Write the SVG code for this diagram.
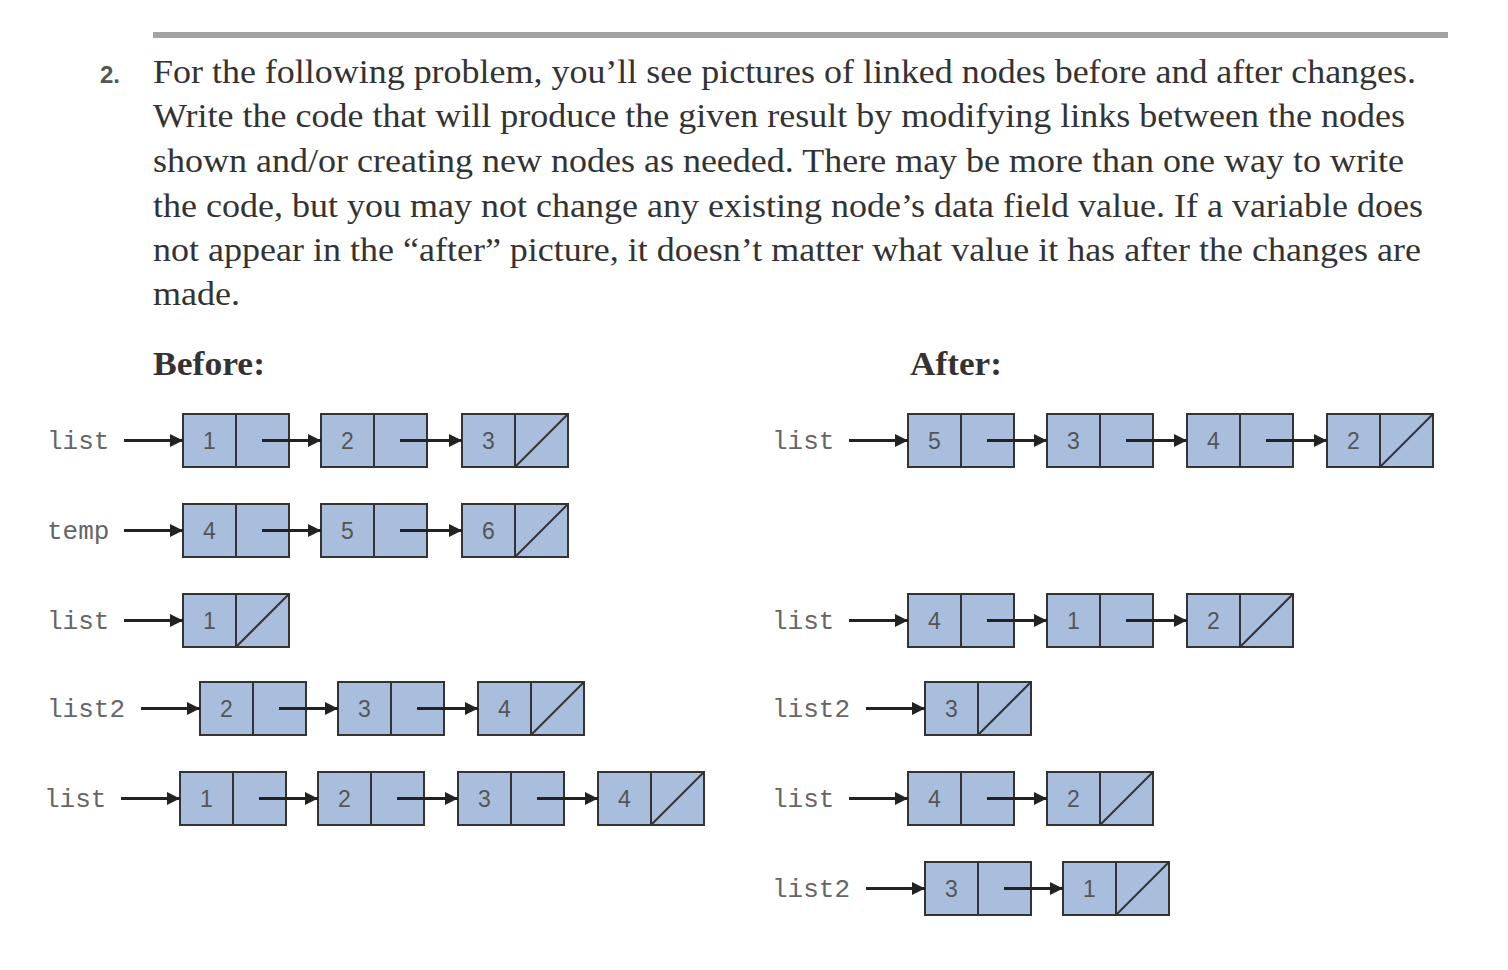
<svg xmlns="http://www.w3.org/2000/svg" width="1508" height="970" viewBox="0 0 1508 970">
<style>
.para{font-family:"Liberation Serif","Times New Roman",serif;font-size:33px;fill:#333}
.head{font-family:"Liberation Serif","Times New Roman",serif;font-size:33px;font-weight:bold;fill:#333}
.num2{font-family:"Liberation Sans",Arial,sans-serif;font-size:24px;font-weight:bold;fill:#555}
.lbl{font-family:"Liberation Mono","Courier New",monospace;font-size:26px;fill:#666}
.box{fill:#a9bedd;stroke:#333;stroke-width:2}
.div{stroke:#333;stroke-width:2}
.val{font-family:"Liberation Sans",Arial,sans-serif;font-size:23px;fill:#555;text-anchor:middle}
.conn line{stroke:#222;stroke-width:3;marker-end:url(#ah)}
</style>
<defs>
<marker id="ah" viewBox="0 0 10 10" refX="10" refY="5" markerWidth="13" markerHeight="14" markerUnits="userSpaceOnUse" orient="auto">
<path d="M0,0 L10,5 L0,10 z" fill="#222"/>
</marker>
<g id="n"><rect class="box" x="0" y="0" width="106" height="53"/><line class="div" x1="53" y1="0" x2="53" y2="53"/></g>
<g id="nn"><rect class="box" x="0" y="0" width="106" height="53"/><line class="div" x1="53" y1="0" x2="53" y2="53"/><line class="div" x1="53" y1="53" x2="106" y2="0"/></g>
</defs>
<rect width="1508" height="970" fill="#fff"/>
<rect x="153" y="32" width="1295" height="6" fill="#a3a3a3"/>
<g id="text">
<text class="num2" x="100" y="83">2.</text>
<text class="para" x="153" y="83" textLength="1263" lengthAdjust="spacingAndGlyphs">For the following problem, you’ll see pictures of linked nodes before and after changes.</text>
<text class="para" x="153" y="127" textLength="1252" lengthAdjust="spacingAndGlyphs">Write the code that will produce the given result by modifying links between the nodes</text>
<text class="para" x="153" y="172" textLength="1251" lengthAdjust="spacingAndGlyphs">shown and/or creating new nodes as needed. There may be more than one way to write</text>
<text class="para" x="153" y="217" textLength="1270" lengthAdjust="spacingAndGlyphs">the code, but you may not change any existing node’s data field value. If a variable does</text>
<text class="para" x="153" y="261" textLength="1268" lengthAdjust="spacingAndGlyphs">not appear in the “after” picture, it doesn’t matter what value it has after the changes are</text>
<text class="para" x="153" y="305" textLength="87" lengthAdjust="spacingAndGlyphs">made.</text>
<text class="head" x="153" y="375" textLength="112" lengthAdjust="spacingAndGlyphs">Before:</text>
<text class="head" x="910" y="375" textLength="92" lengthAdjust="spacingAndGlyphs">After:</text>
</g>
<g id="labels">
<text class="lbl" x="47" y="449">list</text>
<text class="lbl" x="47" y="539">temp</text>
<text class="lbl" x="47" y="629">list</text>
<text class="lbl" x="47" y="717">list2</text>
<text class="lbl" x="44" y="807">list</text>
<text class="lbl" x="772" y="449">list</text>
<text class="lbl" x="772" y="629">list</text>
<text class="lbl" x="772" y="717">list2</text>
<text class="lbl" x="772" y="807">list</text>
<text class="lbl" x="772" y="897">list2</text>
</g>
<g id="nodes">
<g id="b1n1"><use href="#n" x="183" y="414"/><text class="val" x="209.5" y="449">1</text></g>
<g id="b1n2"><use href="#n" x="321" y="414"/><text class="val" x="347.5" y="449">2</text></g>
<g id="b1n3"><use href="#nn" x="462" y="414"/><text class="val" x="488.5" y="449">3</text></g>
<g id="b2n1"><use href="#n" x="183" y="504"/><text class="val" x="209.5" y="539">4</text></g>
<g id="b2n2"><use href="#n" x="321" y="504"/><text class="val" x="347.5" y="539">5</text></g>
<g id="b2n3"><use href="#nn" x="462" y="504"/><text class="val" x="488.5" y="539">6</text></g>
<g id="b3n1"><use href="#nn" x="183" y="594"/><text class="val" x="209.5" y="629">1</text></g>
<g id="b4n1"><use href="#n" x="200" y="682"/><text class="val" x="226.5" y="717">2</text></g>
<g id="b4n2"><use href="#n" x="338" y="682"/><text class="val" x="364.5" y="717">3</text></g>
<g id="b4n3"><use href="#nn" x="478" y="682"/><text class="val" x="504.5" y="717">4</text></g>
<g id="b5n1"><use href="#n" x="180" y="772"/><text class="val" x="206.5" y="807">1</text></g>
<g id="b5n2"><use href="#n" x="318" y="772"/><text class="val" x="344.5" y="807">2</text></g>
<g id="b5n3"><use href="#n" x="458" y="772"/><text class="val" x="484.5" y="807">3</text></g>
<g id="b5n4"><use href="#nn" x="598" y="772"/><text class="val" x="624.5" y="807">4</text></g>
<g id="a1n1"><use href="#n" x="908" y="414"/><text class="val" x="934.5" y="449">5</text></g>
<g id="a1n2"><use href="#n" x="1047" y="414"/><text class="val" x="1073.5" y="449">3</text></g>
<g id="a1n3"><use href="#n" x="1187" y="414"/><text class="val" x="1213.5" y="449">4</text></g>
<g id="a1n4"><use href="#nn" x="1327" y="414"/><text class="val" x="1353.5" y="449">2</text></g>
<g id="a3n1"><use href="#n" x="908" y="594"/><text class="val" x="934.5" y="629">4</text></g>
<g id="a3n2"><use href="#n" x="1047" y="594"/><text class="val" x="1073.5" y="629">1</text></g>
<g id="a3n3"><use href="#nn" x="1187" y="594"/><text class="val" x="1213.5" y="629">2</text></g>
<g id="a4n1"><use href="#nn" x="925" y="682"/><text class="val" x="951.5" y="717">3</text></g>
<g id="a5n1"><use href="#n" x="908" y="772"/><text class="val" x="934.5" y="807">4</text></g>
<g id="a5n2"><use href="#nn" x="1047" y="772"/><text class="val" x="1073.5" y="807">2</text></g>
<g id="a6n1"><use href="#n" x="925" y="862"/><text class="val" x="951.5" y="897">3</text></g>
<g id="a6n2"><use href="#nn" x="1063" y="862"/><text class="val" x="1089.5" y="897">1</text></g>
</g>
<g id="connectors" class="conn">
<line x1="124" y1="440.5" x2="183" y2="440.5"/>
<line x1="262" y1="440.5" x2="321" y2="440.5"/>
<line x1="400" y1="440.5" x2="462" y2="440.5"/>
<line x1="124" y1="530.5" x2="183" y2="530.5"/>
<line x1="262" y1="530.5" x2="321" y2="530.5"/>
<line x1="400" y1="530.5" x2="462" y2="530.5"/>
<line x1="124" y1="620.5" x2="183" y2="620.5"/>
<line x1="141" y1="708.5" x2="200" y2="708.5"/>
<line x1="279" y1="708.5" x2="338" y2="708.5"/>
<line x1="417" y1="708.5" x2="478" y2="708.5"/>
<line x1="121" y1="798.5" x2="180" y2="798.5"/>
<line x1="259" y1="798.5" x2="318" y2="798.5"/>
<line x1="397" y1="798.5" x2="458" y2="798.5"/>
<line x1="537" y1="798.5" x2="598" y2="798.5"/>
<line x1="849" y1="440.5" x2="908" y2="440.5"/>
<line x1="987" y1="440.5" x2="1047" y2="440.5"/>
<line x1="1126" y1="440.5" x2="1187" y2="440.5"/>
<line x1="1266" y1="440.5" x2="1327" y2="440.5"/>
<line x1="849" y1="620.5" x2="908" y2="620.5"/>
<line x1="987" y1="620.5" x2="1047" y2="620.5"/>
<line x1="1126" y1="620.5" x2="1187" y2="620.5"/>
<line x1="866" y1="708.5" x2="925" y2="708.5"/>
<line x1="849" y1="798.5" x2="908" y2="798.5"/>
<line x1="987" y1="798.5" x2="1047" y2="798.5"/>
<line x1="866" y1="888.5" x2="925" y2="888.5"/>
<line x1="1004" y1="888.5" x2="1063" y2="888.5"/>
</g>
</svg>
